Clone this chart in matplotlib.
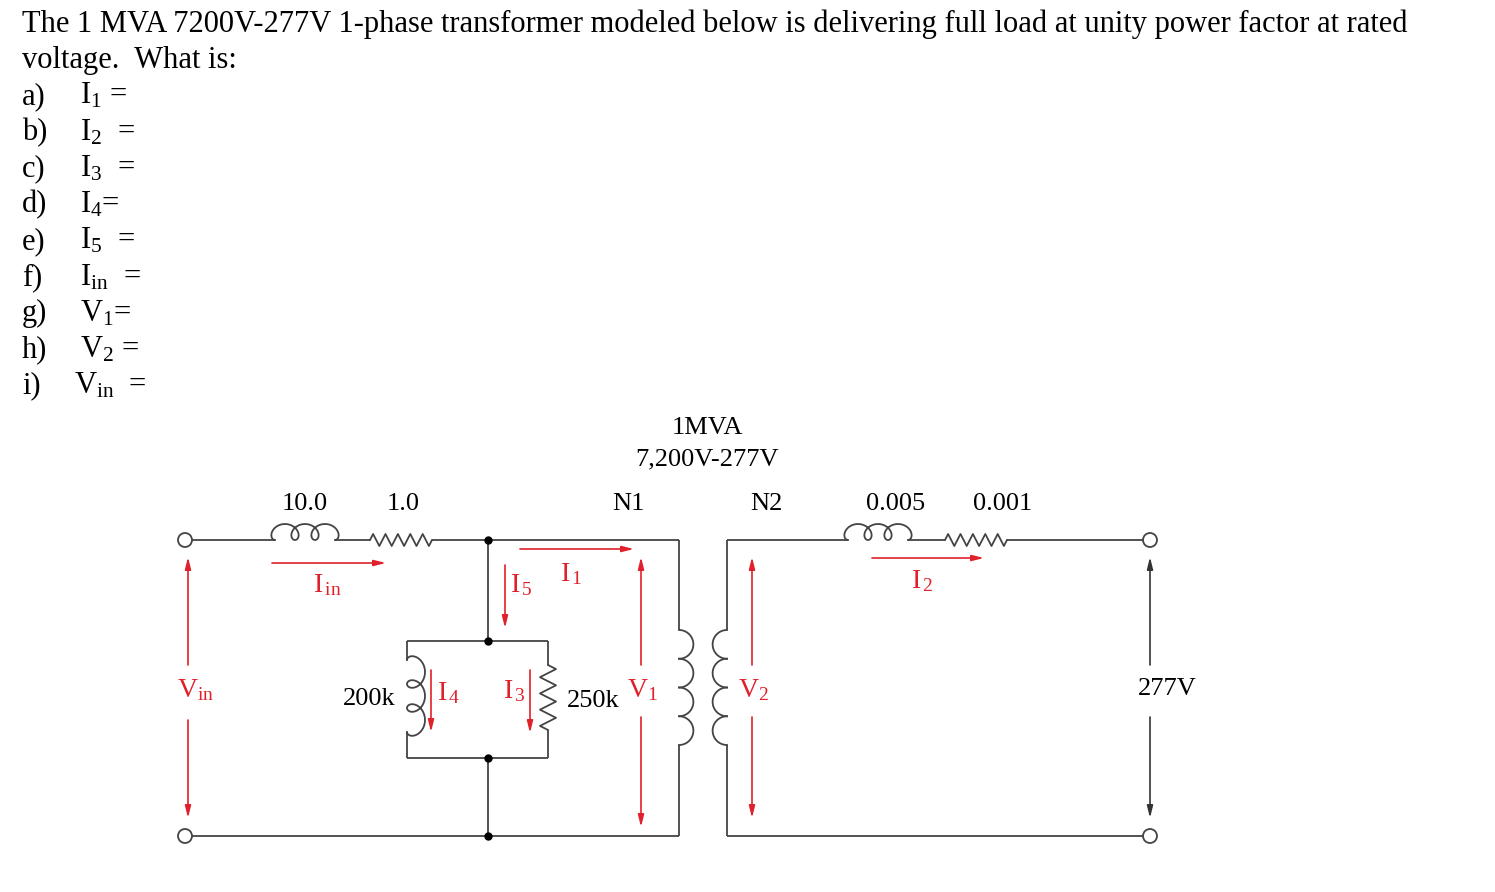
import numpy as np
import matplotlib
matplotlib.use("Agg")
import matplotlib.pyplot as plt

plt.rcParams['font.family'] = ['Liberation Serif', 'DejaVu Serif']
plt.rcParams['mathtext.fontset'] = 'custom'
plt.rcParams['mathtext.rm'] = 'Liberation Serif'
plt.rcParams['mathtext.it'] = 'Liberation Serif:italic'

title_lines = ["The 1 MVA 7200V-277V 1-phase transformer modeled below is delivering full load at unity power factor at rated",
               "voltage.  What is:"]
item_letters = ["a)", "b)", "c)", "d)", "e)", "f)", "g)", "h)", "i)"]
item_labels = [r"$\mathrm{I}_{1}$ =", r"$\mathrm{I}_{2}$  =", r"$\mathrm{I}_{3}$  =", r"$\mathrm{I}_{4}$=",
               r"$\mathrm{I}_{5}$  =", r"$\mathrm{I}_{\mathrm{in}}$  =", r"$\mathrm{V}_{1}$=", r"$\mathrm{V}_{2}$ =",
               r"$\mathrm{V}_{\mathrm{in}}$  ="]
rating = ["1MVA", "7,200V-277V"]
series_vals = ["10.0", "1.0", "0.005", "0.001"]
shunt_vals = ["200k", "250k"]
turns = ["N1", "N2"]
load_voltage = "277V"

K = '#444444'; R = '#e0202a'
fig = plt.figure(figsize=(14.95, 8.92), dpi=100)
ax = fig.add_axes([0, 0, 1, 1])
ax.set_xlim(0, 1495); ax.set_ylim(892, 0); ax.axis('off')

TF = 22
ax.text(22, 32, title_lines[0], fontsize=TF, va='baseline')
ax.text(22, 68, title_lines[1], fontsize=TF, va='baseline')
for i, (l, s) in enumerate(zip(item_letters, item_labels)):
    y = 104 + i * 36.2
    ax.text(22, y, l, fontsize=TF, va='baseline')
    ax.text(80 if i < 8 else 74, y, s, fontsize=TF, va='baseline')

lw = 1.3
def line(xs, ys, c=K):
    ax.plot(xs, ys, color=c, lw=lw, solid_capstyle='butt')

def loopcoil(p0, p1, fixed, n, r, vertical=False, sign=1):
    t = np.linspace(0, 2*np.pi*n, 600)
    c = (p1 - p0) / (2*np.pi*n)
    u = c*t - r*np.sin(t)
    v = r*(1 - np.cos(t))
    if not vertical:
        ax.plot(p0 + u, fixed - sign*v, color=K, lw=lw)
    else:
        ax.plot(fixed + sign*v, p0 + u, color=K, lw=lw)

def zigzag(p0, p1, fixed, n=5, amp=6, vertical=False):
    pts = [0] + list(np.linspace(0.5, 2*n - 0.5, 2*n) / (2*n)) + [1]
    u = [p0 + (p1 - p0)*t for t in pts]
    v = [0] + [amp*(1 if k % 2 == 0 else -1) for k in range(2*n)] + [0]
    if not vertical:
        ax.plot(u, [fixed - w for w in v], color=K, lw=lw)
    else:
        ax.plot([fixed + w for w in v], u, color=K, lw=lw)

def bumps(x, y0, y1, n=4, sign=1):
    r = (y1 - y0) / (2*n)
    for k in range(n):
        cy = y0 + r*(2*k + 1)
        t = np.linspace(-np.pi/2, np.pi/2, 60)
        ax.plot(x + sign*r*np.cos(t), cy + r*np.sin(t), color=K, lw=lw)

yt, yb = 540, 836
for (cx, cy) in [(185, yt), (185, yb), (1150, yt), (1150, yb)]:
    ax.add_patch(plt.Circle((cx, cy), 7, fill=False, ec=K, lw=lw, zorder=3))
line([192, 275], [yt, yt]); loopcoil(275, 335, yt, 3, 8)
line([335, 370], [yt, yt]); zigzag(370, 432, yt, 5, 6)
line([432, 679], [yt, yt]); line([679, 679], [yt, 630]); bumps(679, 630, 745, 4, 1)
line([679, 679], [745, yb]); line([192, 679], [yb, yb])
line([488, 488], [yt, 641]); line([407, 548], [641, 641]); line([407, 548], [758, 758])
line([488, 488], [758, yb])
line([407, 407], [641, 660]); loopcoil(660, 732, 407, 3, 9, vertical=True); line([407, 407], [732, 758])
line([548, 548], [641, 665]); zigzag(665, 730, 548, 4, 8, vertical=True); line([548, 548], [730, 758])
for (dx, dy) in [(488, yt), (488, 641), (488, 758), (488, yb)]:
    ax.plot(dx, dy, 'o', color='black', ms=5, zorder=4)
line([727, 727], [yt, 630]); bumps(727, 630, 745, 4, -1); line([727, 727], [745, yb])
line([727, 848], [yt, yt]); loopcoil(848, 908, yt, 3, 8)
line([908, 945], [yt, yt]); zigzag(945, 1007, yt, 5, 6); line([1007, 1143], [yt, yt])
line([727, 1143], [yb, yb])

def arrow(x0, y0, x1, y1, c=R):
    ax.annotate('', xy=(x1, y1), xytext=(x0, y0),
                arrowprops=dict(arrowstyle='-|>,head_width=0.25,head_length=1.0', color=c, lw=1.2,
                                shrinkA=0, shrinkB=0, mutation_scale=7))

for x, up0, dn0, c in [(188, 665, 720, R), (641, 665, 717, R), (752, 665, 717, R), (1150, 665, 717, '#333333')]:
    arrow(x, up0, x, 557, c=c); arrow(x, dn0, x, 818 if x != 641 else 827, c=c)
arrow(272, 563, 386, 563); arrow(520, 549, 634, 549); arrow(872, 558, 984, 558)
arrow(505, 565, 505, 628); arrow(431, 670, 431, 732); arrow(530, 670, 530, 733)

fs = 19
ax.text(707, 434, rating[0], fontsize=fs, ha='center', va='baseline')
ax.text(707, 465, rating[1], fontsize=fs, ha='center', va='baseline')
for x, s in zip([305, 403, 896, 1003], series_vals):
    ax.text(x, 510, s, fontsize=fs, ha='center', va='baseline')
for x, s in zip([628, 766], turns):
    ax.text(x, 510, s, fontsize=fs, ha='center', va='baseline')
ax.text(395, 705, shunt_vals[0], fontsize=fs, ha='right', va='baseline')
ax.text(567, 707, shunt_vals[1], fontsize=fs, ha='left', va='baseline')
ax.text(1167, 695, load_voltage, fontsize=fs, ha='center', va='baseline', bbox=dict(fc='white', ec='none', pad=1))

rfs = 20
red_labels = [(313, 592, r"$\mathrm{I}_{\,\mathrm{in}}$"), (560, 581, r"$\mathrm{I}_{\,1}$"), (911, 588, r"$\mathrm{I}_{\,2}$"),
              (510, 592, r"$\mathrm{I}_{\,5}$"), (437, 700, r"$\mathrm{I}_{\,4}$"), (503, 698, r"$\mathrm{I}_{\,3}$"),
              (177, 697, r"$\mathrm{V}_{\mathrm{in}}$"), (627, 697, r"$\mathrm{V}_{1}$"), (738, 697, r"$\mathrm{V}_{2}$")]
for x, y, s in red_labels:
    ax.text(x, y, s, fontsize=rfs, color=R, va='baseline', ha='left',
            bbox=dict(fc='white', ec='none', pad=0.5) if 'V' in s else None)

fig.savefig('out.png', dpi=100)
